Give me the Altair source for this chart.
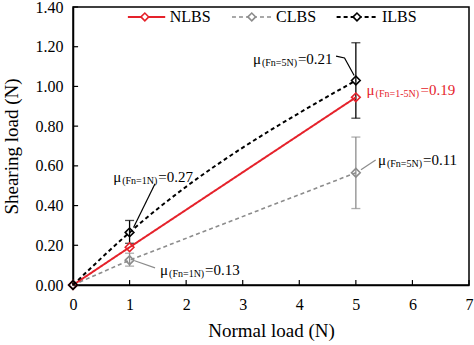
import altair as alt
import pandas as pd

# ---------------- data ----------------
series = ["NLBS", "CLBS", "ILBS"]
normal_load = [0, 1, 5]
nlbs = [0.0, 0.19, 0.945]
clbs = [0.0, 0.125, 0.565]
ilbs = [0.0, 0.265, 1.03]
err_x = [1, 5]
clbs_lo = [0.095, 0.385]
clbs_hi = [0.160, 0.745]
ilbs_lo = [0.210, 0.840]
ilbs_hi = [0.325, 1.220]
x_ticks = [0, 1, 2, 3, 4, 5, 6, 7]
y_ticks = [0.0, 0.2, 0.4, 0.6, 0.8, 1.0, 1.2, 1.4]

# annotation texts: (mu, subscript, value)
ann_sub = ["(Fn=5N)", "(Fn=1-5N)", "(Fn=5N)", "(Fn=1N)", "(Fn=1N)"]
ann_val = ["=0.21", "=0.19", "=0.11", "=0.27", "=0.13"]
ann_x = [3.18, 5.19, 5.39, 0.71, 1.54]
ann_y = [1.138, 0.982, 0.629, 0.544, 0.076]
ann_col = ["black", "red", "black", "black", "black"]

# leader lines
lead_id = ["a", "a", "a", "c", "c", "d", "d", "e", "e"]
lead_x = [4.65, 4.80, 4.97, 5.35, 5.09, 1.45, 1.07, 1.45, 1.09]
lead_y = [1.153, 1.143, 1.055, 0.630, 0.580, 0.510, 0.290, 0.086, 0.122]
lead_col = ["black", "black", "black", "gray", "gray", "black", "black", "gray", "gray"]

# legend layout (data coords)
leg_x1 = [0.97, 2.81, 4.66]
leg_x2 = [1.63, 3.52, 5.37]
leg_mark = [1.27, 3.16, 5.02]
leg_text = [1.71, 3.59, 5.46]
leg_y = 1.35

COL = {"red": "#e5222b", "gray": "#8c8c8c", "black": "#000000"}
SCOL = {"NLBS": COL["red"], "CLBS": COL["gray"], "ILBS": COL["black"]}
SDASH = {"NLBS": [1, 0], "CLBS": [4, 3], "ILBS": [4, 3]}
SWID = {"NLBS": 2, "CLBS": 1.6, "ILBS": 2}
FONT = "Liberation Serif"

xs = alt.Scale(domain=[0, 7], nice=False, zero=False)
ys = alt.Scale(domain=[0, 1.4], nice=False, zero=False)
x_axis = alt.Axis(values=x_ticks, format="d", ticks=False, grid=False, labelPadding=11,
                  labelOverlap=False, labelFlush=False, title="Normal load (N)", titlePadding=9)
y_axis = alt.Axis(values=y_ticks, format=".2f", ticks=False, grid=False, labelPadding=10,
                  labelOverlap=False, labelFlush=False, title="Shearing load (N)", titlePadding=14)

X = alt.X("x:Q", scale=xs, axis=x_axis)
Y = alt.Y("y:Q", scale=ys, axis=y_axis)

layers = []

# inward ticks
yt = pd.DataFrame({"y": y_ticks})
layers.append(alt.Chart(yt).mark_rule(color="black", strokeWidth=1.2).encode(
    x=alt.X(datum=0, scale=xs, axis=x_axis), x2=alt.datum(0.09), y=Y))
xt = pd.DataFrame({"x": x_ticks})
layers.append(alt.Chart(xt).mark_rule(color="black", strokeWidth=1.2).encode(
    x=X, y=alt.Y(datum=0, scale=ys, axis=y_axis), y2=alt.datum(0.025)))

# error bars
for name, lo, hi in [("CLBS", clbs_lo, clbs_hi), ("ILBS", ilbs_lo, ilbs_hi)]:
    ed = pd.DataFrame({"x": err_x, "lo": lo, "hi": hi})
    c = SCOL[name]
    layers.append(alt.Chart(ed).mark_rule(color=c, strokeWidth=1.3).encode(
        x=X, y=alt.Y("lo:Q", scale=ys, axis=y_axis), y2="hi:Q"))
    for f in ["lo", "hi"]:
        layers.append(alt.Chart(ed).mark_tick(color=c, orient="horizontal", size=9, thickness=1.3).encode(
            x=X, y=alt.Y(f + ":Q", scale=ys, axis=y_axis)))

# series lines + markers
for name, vals in [("CLBS", clbs), ("NLBS", nlbs), ("ILBS", ilbs)]:
    df = pd.DataFrame({"x": normal_load, "y": vals})
    interp = "monotone" if name == "ILBS" else "linear"
    layers.append(alt.Chart(df).mark_line(color=SCOL[name], strokeDash=SDASH[name],
                                          strokeWidth=SWID[name], interpolate=interp).encode(x=X, y=Y))
    layers.append(alt.Chart(df).mark_point(shape="diamond", filled=False, color=SCOL[name],
                                           size=75, strokeWidth=1.6, opacity=1).encode(x=X, y=Y))

# legend
for i, name in enumerate(series):
    ld = pd.DataFrame({"x": [leg_x1[i]], "x2": [leg_x2[i]], "y": [leg_y]})
    layers.append(alt.Chart(ld).mark_rule(color=SCOL[name], strokeDash=SDASH[name],
                                          strokeWidth=SWID[name]).encode(x=X, x2="x2:Q", y=Y))
    md = pd.DataFrame({"x": [leg_mark[i]], "y": [leg_y]})
    layers.append(alt.Chart(md).mark_point(shape="diamond", filled=True, fill="white", stroke=SCOL[name],
                                           size=60, strokeWidth=1.6, opacity=1).encode(x=X, y=Y))
    td = pd.DataFrame({"x": [leg_text[i]], "y": [leg_y], "t": [name]})
    layers.append(alt.Chart(td).mark_text(align="left", baseline="middle", font=FONT, fontSize=16,
                                          color="black").encode(x=X, y=Y, text="t:N"))

# leader lines
ldf = pd.DataFrame({"id": lead_id, "x": lead_x, "y": lead_y, "c": lead_col,
                    "o": list(range(len(lead_id)))})
for cname in ["black", "gray"]:
    sub = ldf[ldf.c == cname]
    layers.append(alt.Chart(sub).mark_line(color=COL[cname], strokeWidth=1.2).encode(
        x=X, y=Y, detail="id:N", order="o:Q"))

# annotations with subscripts
SUBW = {"(Fn=5N)": 36, "(Fn=1N)": 36, "(Fn=1-5N)": 45}
for i in range(len(ann_sub)):
    c = COL[ann_col[i]]
    base = pd.DataFrame({"x": [ann_x[i]], "y": [ann_y[i]], "mu": ["μ"],
                         "s": [ann_sub[i]], "v": [ann_val[i]]})
    layers.append(alt.Chart(base).mark_text(align="left", baseline="middle", font=FONT, fontSize=15,
                                            color=c).encode(x=X, y=Y, text="mu:N"))
    layers.append(alt.Chart(base).mark_text(align="left", baseline="middle", font=FONT, fontSize=10,
                                            color=c, dx=9, dy=4).encode(x=X, y=Y, text="s:N"))
    layers.append(alt.Chart(base).mark_text(align="left", baseline="middle", font=FONT, fontSize=15,
                                            color=c, dx=9 + SUBW[ann_sub[i]]).encode(x=X, y=Y, text="v:N"))

chart = alt.layer(*layers).properties(
    width=396, height=278,
    autosize=alt.AutoSizeParams(type="none"),
    padding={"left": 73, "top": 7, "right": 5, "bottom": 60},
).configure_view(stroke="black", strokeWidth=1.5).configure_axis(
    domainColor="black", domainWidth=1.5, labelFont=FONT, labelFontSize=16, labelColor="black",
    titleFont=FONT, titleFontSize=19, titleFontWeight="normal", titleColor="black",
    labelOverlap=False,
)

chart.save("out.html", embed_options={"renderer": "svg", "actions": False})
